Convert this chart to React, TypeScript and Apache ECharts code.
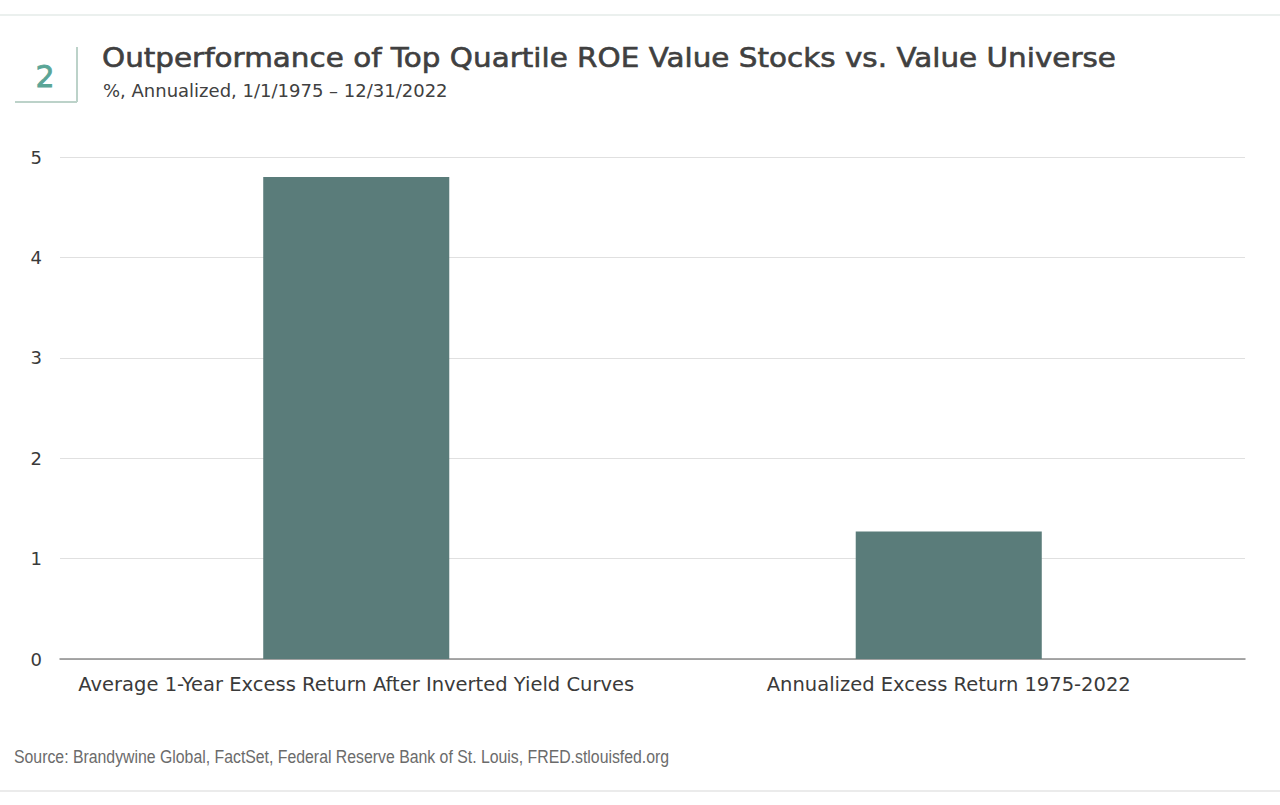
import React, { useEffect, useRef } from 'react';
import * as echarts from 'echarts';

const categories = [
  'Average 1-Year Excess Return After Inverted Yield Curves',
  'Annualized Excess Return 1975-2022',
];
const values = [4.8, 1.27];
const yTicks = [0, 1, 2, 3, 4, 5];

const TITLE = 'Outperformance of Top Quartile ROE Value Stocks vs. Value Universe';
const SUBTITLE = '%, Annualized, 1/1/1975 – 12/31/2022';
const SOURCE = 'Source: Brandywine Global, FactSet, Federal Reserve Bank of St. Louis, FRED.stlouisfed.org';

const FONT = '"DejaVu Sans"';

const App = () => {
  const chartRef = useRef<HTMLDivElement>(null);

  useEffect(() => {
    document.body.style.margin = '0';
    const chart = echarts.init(chartRef.current, null, { renderer: 'svg' });
    chart.setOption({
      animation: false,
      backgroundColor: '#ffffff',
      textStyle: { fontFamily: FONT },
      grid: { left: 60, right: 35, top: 157, bottom: 146, containLabel: false },
      xAxis: {
        type: 'category',
        data: categories,
        axisLine: { lineStyle: { color: '#8c8c8c', width: 1.5 } },
        axisTick: { show: false },
        axisLabel: { color: '#3a3a3a', fontSize: 19.5, margin: 15, interval: 0, fontFamily: FONT },
      },
      yAxis: {
        type: 'value',
        min: 0,
        max: yTicks[yTicks.length - 1],
        interval: 1,
        axisLine: { show: false },
        axisTick: { show: false },
        axisLabel: { color: '#3a3a3a', fontSize: 18, margin: 18, fontFamily: FONT },
        splitLine: { lineStyle: { color: '#e0e0e0', width: 1 } },
      },
      series: [
        {
          type: 'bar',
          data: values,
          barWidth: '31.4%',
          itemStyle: { color: '#5a7c7a' },
        },
      ],
      graphic: [
        { type: 'line', shape: { x1: 0, y1: 15, x2: 1280, y2: 15 }, style: { stroke: '#e4ebe8', lineWidth: 1.5 } },
        { type: 'line', shape: { x1: 0, y1: 791, x2: 1280, y2: 791 }, style: { stroke: '#e4e4e4', lineWidth: 1.5 } },
        { type: 'line', shape: { x1: 77, y1: 47, x2: 77, y2: 102 }, style: { stroke: '#bcd2c9', lineWidth: 2 } },
        { type: 'line', shape: { x1: 15, y1: 102, x2: 77, y2: 102 }, style: { stroke: '#bcd2c9', lineWidth: 2 } },
        {
          type: 'text', x: 45, y: 76,
          style: {
            text: '2', fill: '#5aa596', stroke: '#5aa596', lineWidth: 0.8,
            font: '30px ' + FONT, textAlign: 'center', textVerticalAlign: 'middle',
          },
        },
        {
          type: 'text', x: 102, y: 58, scaleX: 1.09,
          style: {
            text: TITLE, fill: '#404040', stroke: '#404040', lineWidth: 0.6,
            font: '27px ' + FONT, textVerticalAlign: 'middle',
          },
        },
        {
          type: 'text', x: 103, y: 90,
          style: { text: SUBTITLE, fill: '#404040', font: '18px ' + FONT, textVerticalAlign: 'middle' },
        },
        {
          type: 'text', x: 14, y: 757, scaleX: 0.856,
          style: { text: SOURCE, fill: '#6b6b6b', font: '18.5px "Liberation Sans"', textVerticalAlign: 'middle' },
        },
      ],
    });
    return () => chart.dispose();
  }, []);

  return <div ref={chartRef} style={{ width: 1280, height: 805 }} />;
};

export default App;
